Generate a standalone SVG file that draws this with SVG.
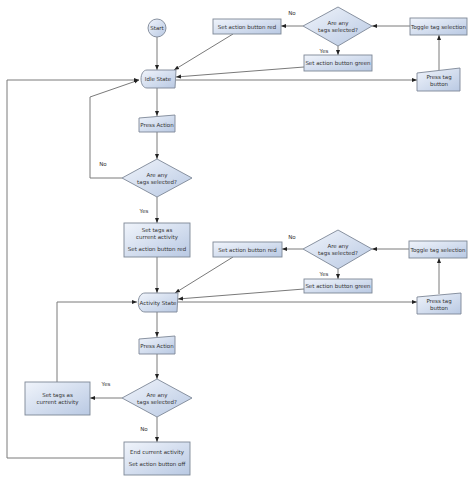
<svg xmlns="http://www.w3.org/2000/svg" width="474" height="482" viewBox="0 0 474 482">
<defs>
<linearGradient id="g" x1="0" y1="0" x2="1" y2="1">
<stop offset="0" stop-color="#f0f4fb"/>
<stop offset="1" stop-color="#b9c9e3"/>
</linearGradient>
<marker id="a" viewBox="0 0 10 10" refX="10" refY="5" markerWidth="5" markerHeight="5" orient="auto" markerUnits="userSpaceOnUse">
<path d="M0,1 L10,5 L0,9 Z" fill="#222"/>
</marker>
<style>
.n{fill:url(#g);stroke:#7d8796;stroke-width:0.9}
.t{font-family:"DejaVu Sans",Verdana,sans-serif;font-size:5.5px;fill:#333;text-anchor:middle;dominant-baseline:central}
.c{fill:none;stroke:#7a7a7a;stroke-width:1;marker-end:url(#a)}
.p{fill:none;stroke:#7a7a7a;stroke-width:1}
</style>
</defs>
<rect width="474" height="482" fill="#fff"/>
<g id="connectors">
<line class="c" x1="157" y1="37" x2="157" y2="70"/>
<line class="c" x1="157" y1="88" x2="157" y2="116"/>
<line class="c" x1="157" y1="132" x2="157" y2="159"/>
<line class="c" x1="157" y1="197" x2="157" y2="223"/>
<polyline class="c" points="122,178 90,178 90,97 139,80"/>
<polyline class="c" points="124,458 7,458 7,80 139,80"/>
<line class="c" x1="157" y1="257" x2="157" y2="293"/>
<line class="c" x1="157" y1="312" x2="157" y2="337"/>
<line class="c" x1="157" y1="354" x2="157" y2="379"/>
<line class="c" x1="122" y1="398" x2="90" y2="398"/>
<line class="c" x1="157" y1="417" x2="157" y2="442"/>
<polyline class="c" points="57,382 57,302 137,302"/>
<line class="c" x1="439" y1="70" x2="439" y2="35"/>
<line class="c" x1="410" y1="26" x2="372" y2="26"/>
<line class="c" x1="303" y1="26" x2="281" y2="26"/>
<line class="c" x1="338" y1="46" x2="338" y2="55"/>
<line class="c" x1="233" y1="34" x2="174" y2="70"/>
<line class="c" x1="304" y1="67" x2="176" y2="77"/>
<line class="c" x1="176" y1="80" x2="417" y2="80"/>
<line class="c" x1="439" y1="294" x2="439" y2="258"/>
<line class="c" x1="409" y1="249" x2="372" y2="249"/>
<line class="c" x1="303" y1="249" x2="282" y2="249"/>
<line class="c" x1="338" y1="269" x2="338" y2="279"/>
<line class="c" x1="233" y1="257" x2="175" y2="293"/>
<line class="c" x1="304" y1="289" x2="178" y2="299"/>
<line class="c" x1="178" y1="302" x2="417" y2="302"/>
</g>
<g id="labels">
<text class="t" x="103" y="164">No</text>
<text class="t" x="144" y="211">Yes</text>
<text class="t" x="292" y="13">No</text>
<text class="t" x="324" y="51">Yes</text>
<text class="t" x="292" y="237">No</text>
<text class="t" x="324" y="274">Yes</text>
<text class="t" x="106" y="384">Yes</text>
<text class="t" x="144" y="429">No</text>
</g>
<g id="start"><circle class="n" cx="157" cy="28" r="9"/><text class="t" x="157" y="28">Start</text></g>
<g id="idle"><path class="n" d="M147,70 H176 L175,88 H147 C139,88 139,70 147,70 Z"/><text class="t" x="158" y="79">Idle State</text></g>
<g id="press1"><path class="n" d="M139,118 L175,115 L175,132 L139,132 Z"/><text class="t" x="157" y="124.5">Press Action</text></g>
<g id="dec1"><path class="n" d="M157,159 L192,178 L157,197 L122,178 Z"/><text class="t" x="157" y="174.5">Are any</text><text class="t" x="157" y="181.5">tags selected?</text></g>
<g id="settags1"><rect class="n" x="124" y="223" width="66" height="34"/><text class="t" x="157" y="230">Set tags as</text><text class="t" x="157" y="237">current activity</text><text class="t" x="157" y="249">Set action button red</text></g>
<g id="activity"><path class="n" d="M145,293 H178 L177,312 H145 C136,312 136,293 145,293 Z"/><text class="t" x="158" y="302.5">Activity State</text></g>
<g id="press2"><path class="n" d="M139,339 L175,336 L175,354 L139,354 Z"/><text class="t" x="157" y="345.5">Press Action</text></g>
<g id="dec2"><path class="n" d="M157,379 L192,398 L157,417 L122,398 Z"/><text class="t" x="157" y="394.5">Are any</text><text class="t" x="157" y="401.5">tags selected?</text></g>
<g id="settags2"><rect class="n" x="25" y="382" width="65" height="33"/><text class="t" x="57.5" y="394.5">Set tags as</text><text class="t" x="57.5" y="401.5">current activity</text></g>
<g id="end"><rect class="n" x="124" y="442" width="66" height="33"/><text class="t" x="157" y="452">End current activity</text><text class="t" x="157" y="464">Set action button off</text></g>
<g id="red1"><rect class="n" x="213" y="19" width="68" height="15"/><text class="t" x="247" y="26.5">Set action button red</text></g>
<g id="dec3"><path class="n" d="M338,7 L372,26 L338,46 L303,26 Z"/><text class="t" x="338" y="23">Are any</text><text class="t" x="338" y="29.5">tags selected?</text></g>
<g id="toggle1"><rect class="n" x="410" y="18" width="57" height="17"/><text class="t" x="438.5" y="26.5">Toggle tag selection</text></g>
<g id="green1"><rect class="n" x="304" y="55" width="68" height="16"/><text class="t" x="338" y="63">Set action button green</text></g>
<g id="presstag1"><path class="n" d="M417,73 L460,68 L460,91 L417,91 Z"/><text class="t" x="439" y="76.5">Press tag</text><text class="t" x="439" y="83.5">button</text></g>
<g id="red2"><rect class="n" x="213" y="242" width="69" height="15"/><text class="t" x="247.5" y="249.5">Set action button red</text></g>
<g id="dec4"><path class="n" d="M338,230 L372,249 L338,269 L303,249 Z"/><text class="t" x="338" y="246">Are any</text><text class="t" x="338" y="252.5">tags selected?</text></g>
<g id="toggle2"><rect class="n" x="409" y="241" width="58" height="17"/><text class="t" x="438" y="249.5">Toggle tag selection</text></g>
<g id="green2"><rect class="n" x="304" y="279" width="68" height="14"/><text class="t" x="338" y="286">Set action button green</text></g>
<g id="presstag2"><path class="n" d="M417,297 L461,293 L461,314 L417,314 Z"/><text class="t" x="439" y="300.5">Press tag</text><text class="t" x="439" y="307.5">button</text></g>
</svg>
